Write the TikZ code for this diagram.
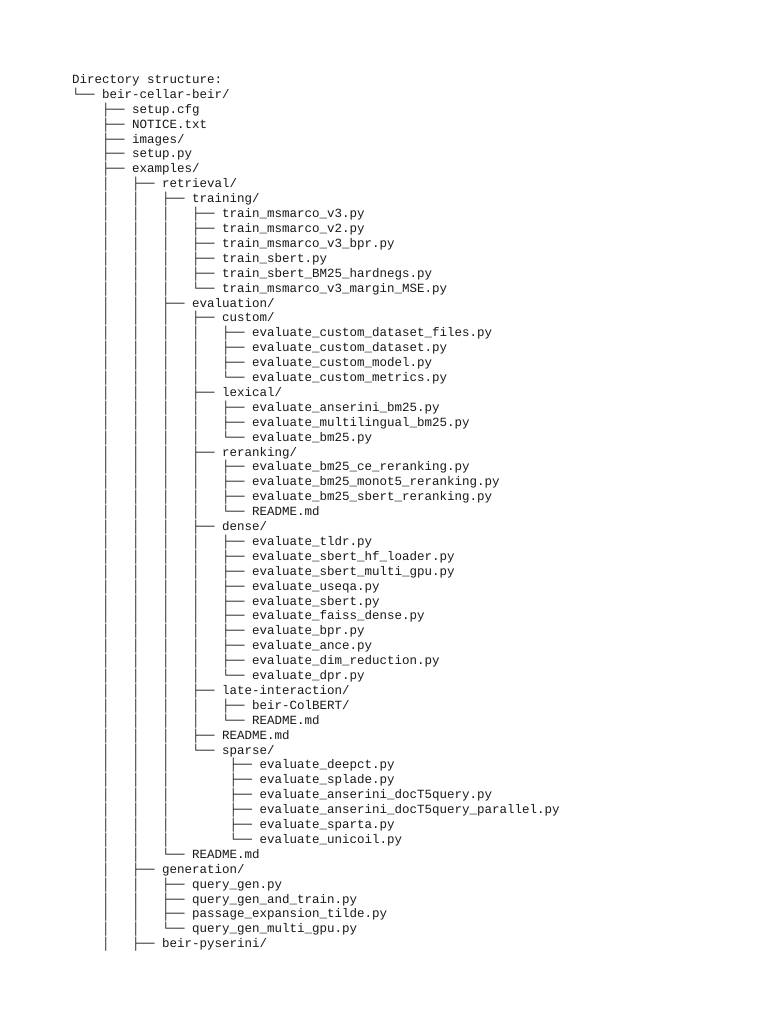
\documentclass[tikz,border=0pt]{standalone}
\usepackage{fontspec}
\setmonofont{Liberation Mono}
\begin{document}
\begin{tikzpicture}[x=1pt,y=1pt,line/.style={anchor=base west,inner sep=0pt,font=\ttfamily\fontsize{12.5}{14.9}\selectfont,text=black!90}]
\useasboundingbox[fill=white] (0,0) rectangle (768,-1024);
\foreach \t [count=\i] in {
Directory structure:,
└──~beir-cellar-beir/,
~~~~├──~setup.cfg,
~~~~├──~NOTICE.txt,
~~~~├──~images/,
~~~~├──~setup.py,
~~~~├──~examples/,
~~~~│~~~├──~retrieval/,
~~~~│~~~│~~~├──~training/,
~~~~│~~~│~~~│~~~├──~train\_msmarco\_v3.py,
~~~~│~~~│~~~│~~~├──~train\_msmarco\_v2.py,
~~~~│~~~│~~~│~~~├──~train\_msmarco\_v3\_bpr.py,
~~~~│~~~│~~~│~~~├──~train\_sbert.py,
~~~~│~~~│~~~│~~~├──~train\_sbert\_BM25\_hardnegs.py,
~~~~│~~~│~~~│~~~└──~train\_msmarco\_v3\_margin\_MSE.py,
~~~~│~~~│~~~├──~evaluation/,
~~~~│~~~│~~~│~~~├──~custom/,
~~~~│~~~│~~~│~~~│~~~├──~evaluate\_custom\_dataset\_files.py,
~~~~│~~~│~~~│~~~│~~~├──~evaluate\_custom\_dataset.py,
~~~~│~~~│~~~│~~~│~~~├──~evaluate\_custom\_model.py,
~~~~│~~~│~~~│~~~│~~~└──~evaluate\_custom\_metrics.py,
~~~~│~~~│~~~│~~~├──~lexical/,
~~~~│~~~│~~~│~~~│~~~├──~evaluate\_anserini\_bm25.py,
~~~~│~~~│~~~│~~~│~~~├──~evaluate\_multilingual\_bm25.py,
~~~~│~~~│~~~│~~~│~~~└──~evaluate\_bm25.py,
~~~~│~~~│~~~│~~~├──~reranking/,
~~~~│~~~│~~~│~~~│~~~├──~evaluate\_bm25\_ce\_reranking.py,
~~~~│~~~│~~~│~~~│~~~├──~evaluate\_bm25\_monot5\_reranking.py,
~~~~│~~~│~~~│~~~│~~~├──~evaluate\_bm25\_sbert\_reranking.py,
~~~~│~~~│~~~│~~~│~~~└──~README.md,
~~~~│~~~│~~~│~~~├──~dense/,
~~~~│~~~│~~~│~~~│~~~├──~evaluate\_tldr.py,
~~~~│~~~│~~~│~~~│~~~├──~evaluate\_sbert\_hf\_loader.py,
~~~~│~~~│~~~│~~~│~~~├──~evaluate\_sbert\_multi\_gpu.py,
~~~~│~~~│~~~│~~~│~~~├──~evaluate\_useqa.py,
~~~~│~~~│~~~│~~~│~~~├──~evaluate\_sbert.py,
~~~~│~~~│~~~│~~~│~~~├──~evaluate\_faiss\_dense.py,
~~~~│~~~│~~~│~~~│~~~├──~evaluate\_bpr.py,
~~~~│~~~│~~~│~~~│~~~├──~evaluate\_ance.py,
~~~~│~~~│~~~│~~~│~~~├──~evaluate\_dim\_reduction.py,
~~~~│~~~│~~~│~~~│~~~└──~evaluate\_dpr.py,
~~~~│~~~│~~~│~~~├──~late-interaction/,
~~~~│~~~│~~~│~~~│~~~├──~beir-ColBERT/,
~~~~│~~~│~~~│~~~│~~~└──~README.md,
~~~~│~~~│~~~│~~~├──~README.md,
~~~~│~~~│~~~│~~~└──~sparse/,
~~~~│~~~│~~~│~~~~~~~~├──~evaluate\_deepct.py,
~~~~│~~~│~~~│~~~~~~~~├──~evaluate\_splade.py,
~~~~│~~~│~~~│~~~~~~~~├──~evaluate\_anserini\_docT5query.py,
~~~~│~~~│~~~│~~~~~~~~├──~evaluate\_anserini\_docT5query\_parallel.py,
~~~~│~~~│~~~│~~~~~~~~├──~evaluate\_sparta.py,
~~~~│~~~│~~~│~~~~~~~~└──~evaluate\_unicoil.py,
~~~~│~~~│~~~└──~README.md,
~~~~│~~~├──~generation/,
~~~~│~~~│~~~├──~query\_gen.py,
~~~~│~~~│~~~├──~query\_gen\_and\_train.py,
~~~~│~~~│~~~├──~passage\_expansion\_tilde.py,
~~~~│~~~│~~~└──~query\_gen\_multi\_gpu.py,
~~~~│~~~├──~beir-pyserini/}
{\node[line] (l\i) at (72,{-83.5-14.9*(\i-1)}) {\t};}
\end{tikzpicture}
\end{document}
